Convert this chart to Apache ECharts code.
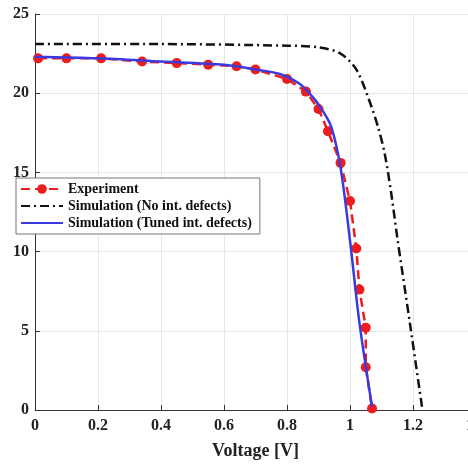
<!DOCTYPE html>
<html>
<head>
<meta charset="UTF-8">
<script src="https://cdn.jsdelivr.net/npm/echarts@6/dist/echarts.min.js"></script>
<style>html,body{margin:0;background:#fff}#main{width:468px;height:468px}</style>
</head>
<body>
<div id="main"></div>
<script>
// experiment points
var expV = [0.01,0.1,0.21,0.34,0.45,0.55,0.64,0.70,0.80,0.86,0.90,0.93,0.97,1.0,1.02,1.03,1.05,1.05,1.07];
var expJ = [22.2,22.2,22.2,22.0,21.9,21.8,21.7,21.5,20.9,20.1,19.0,17.6,15.6,13.2,10.2,7.6,5.2,2.7,0.1];
// simulation, no interface defects
var noDefV = [0,0.4,0.8,0.9,0.97,1.02,1.06,1.09,1.11,1.13,1.15,1.19,1.23];
var noDefJ = [23.1,23.1,23.0,22.9,22.5,21.5,19.6,17.8,16.2,13.8,10.9,5.5,0];
// simulation, tuned interface defects
var tunedV = [0,0.2,0.4,0.6,0.7,0.78,0.84,0.88,0.91,0.94,0.97,1.0,1.03,1.07];
var tunedJ = [22.3,22.2,22.0,21.8,21.5,21.2,20.6,19.8,19.0,17.9,15.3,10.7,5.5,0.2];

function pairs(xs, ys){ return xs.map(function(x,i){ return [x, ys[i]]; }); }

var chart = echarts.init(document.getElementById('main'));
var font = {fontFamily:'Liberation Serif', fontWeight:'bold', color:'#222', fontSize:16};
chart.setOption({
    animation:false,
    grid:{left:35, top:14, right:-8, bottom:58, outerBoundsMode:'none', containLabel:false},
    legend:{
        left:16, top:178, orient:'vertical', itemGap:3, itemWidth:42, itemHeight:12,
        backgroundColor:'#fff', borderColor:'#777', borderWidth:1, padding:[4,8,4,4],
        textStyle:{fontFamily:'Liberation Serif', fontWeight:'bold', fontSize:14, color:'#111'},
        data:[
            {name:'Experiment'},
            {name:'Simulation (No int. defects)', itemStyle:{opacity:0}},
            {name:'Simulation (Tuned int. defects)', itemStyle:{opacity:0}}
        ]
    },
    xAxis:{
        type:'value', min:0, max:1.4, interval:0.2,
        name:'Voltage [V]', nameLocation:'middle', nameGap:32,
        nameTextStyle:{fontFamily:'Liberation Serif', fontWeight:'bold', fontSize:18, color:'#222'},
        axisLine:{lineStyle:{color:'#333'}}, axisTick:{inside:true, lineStyle:{color:'#333'}},
        axisLabel:Object.assign({margin:8, formatter:function(v){return +v.toFixed(1);}}, font),
        splitLine:{lineStyle:{color:'#e6e6e6'}}
    },
    yAxis:{
        type:'value', min:0, max:25, interval:5,
        name:'Current density [mA/cm²]', nameLocation:'middle', nameGap:40,
        nameTextStyle:{fontFamily:'Liberation Serif', fontWeight:'bold', fontSize:18, color:'#bbb'},
        axisLine:{show:true, lineStyle:{color:'#333'}}, axisTick:{inside:true, lineStyle:{color:'#333'}},
        axisLabel:Object.assign({margin:6}, font),
        splitLine:{lineStyle:{color:'#e6e6e6'}}
    },
    series:[
        {name:'Experiment', type:'line', data:pairs(expV, expJ), symbol:'circle', symbolSize:10,
         itemStyle:{color:'#ee1c1c'}, lineStyle:{color:'#ee1c1c', width:2.5, type:[9,5]}, z:3},
        {name:'Simulation (No int. defects)', type:'line', data:pairs(noDefV, noDefJ), symbol:'none', smooth:0.3,
         itemStyle:{color:'#111'}, lineStyle:{color:'#111', width:2.5, type:[9,4,2,4]}},
        {name:'Simulation (Tuned int. defects)', type:'line', data:pairs(tunedV, tunedJ), symbol:'none', smooth:0.3,
         itemStyle:{color:'#3a3adf'}, lineStyle:{color:'#3a3adf', width:2.5}, z:4}
    ]
});
</script>
</body>
</html>
